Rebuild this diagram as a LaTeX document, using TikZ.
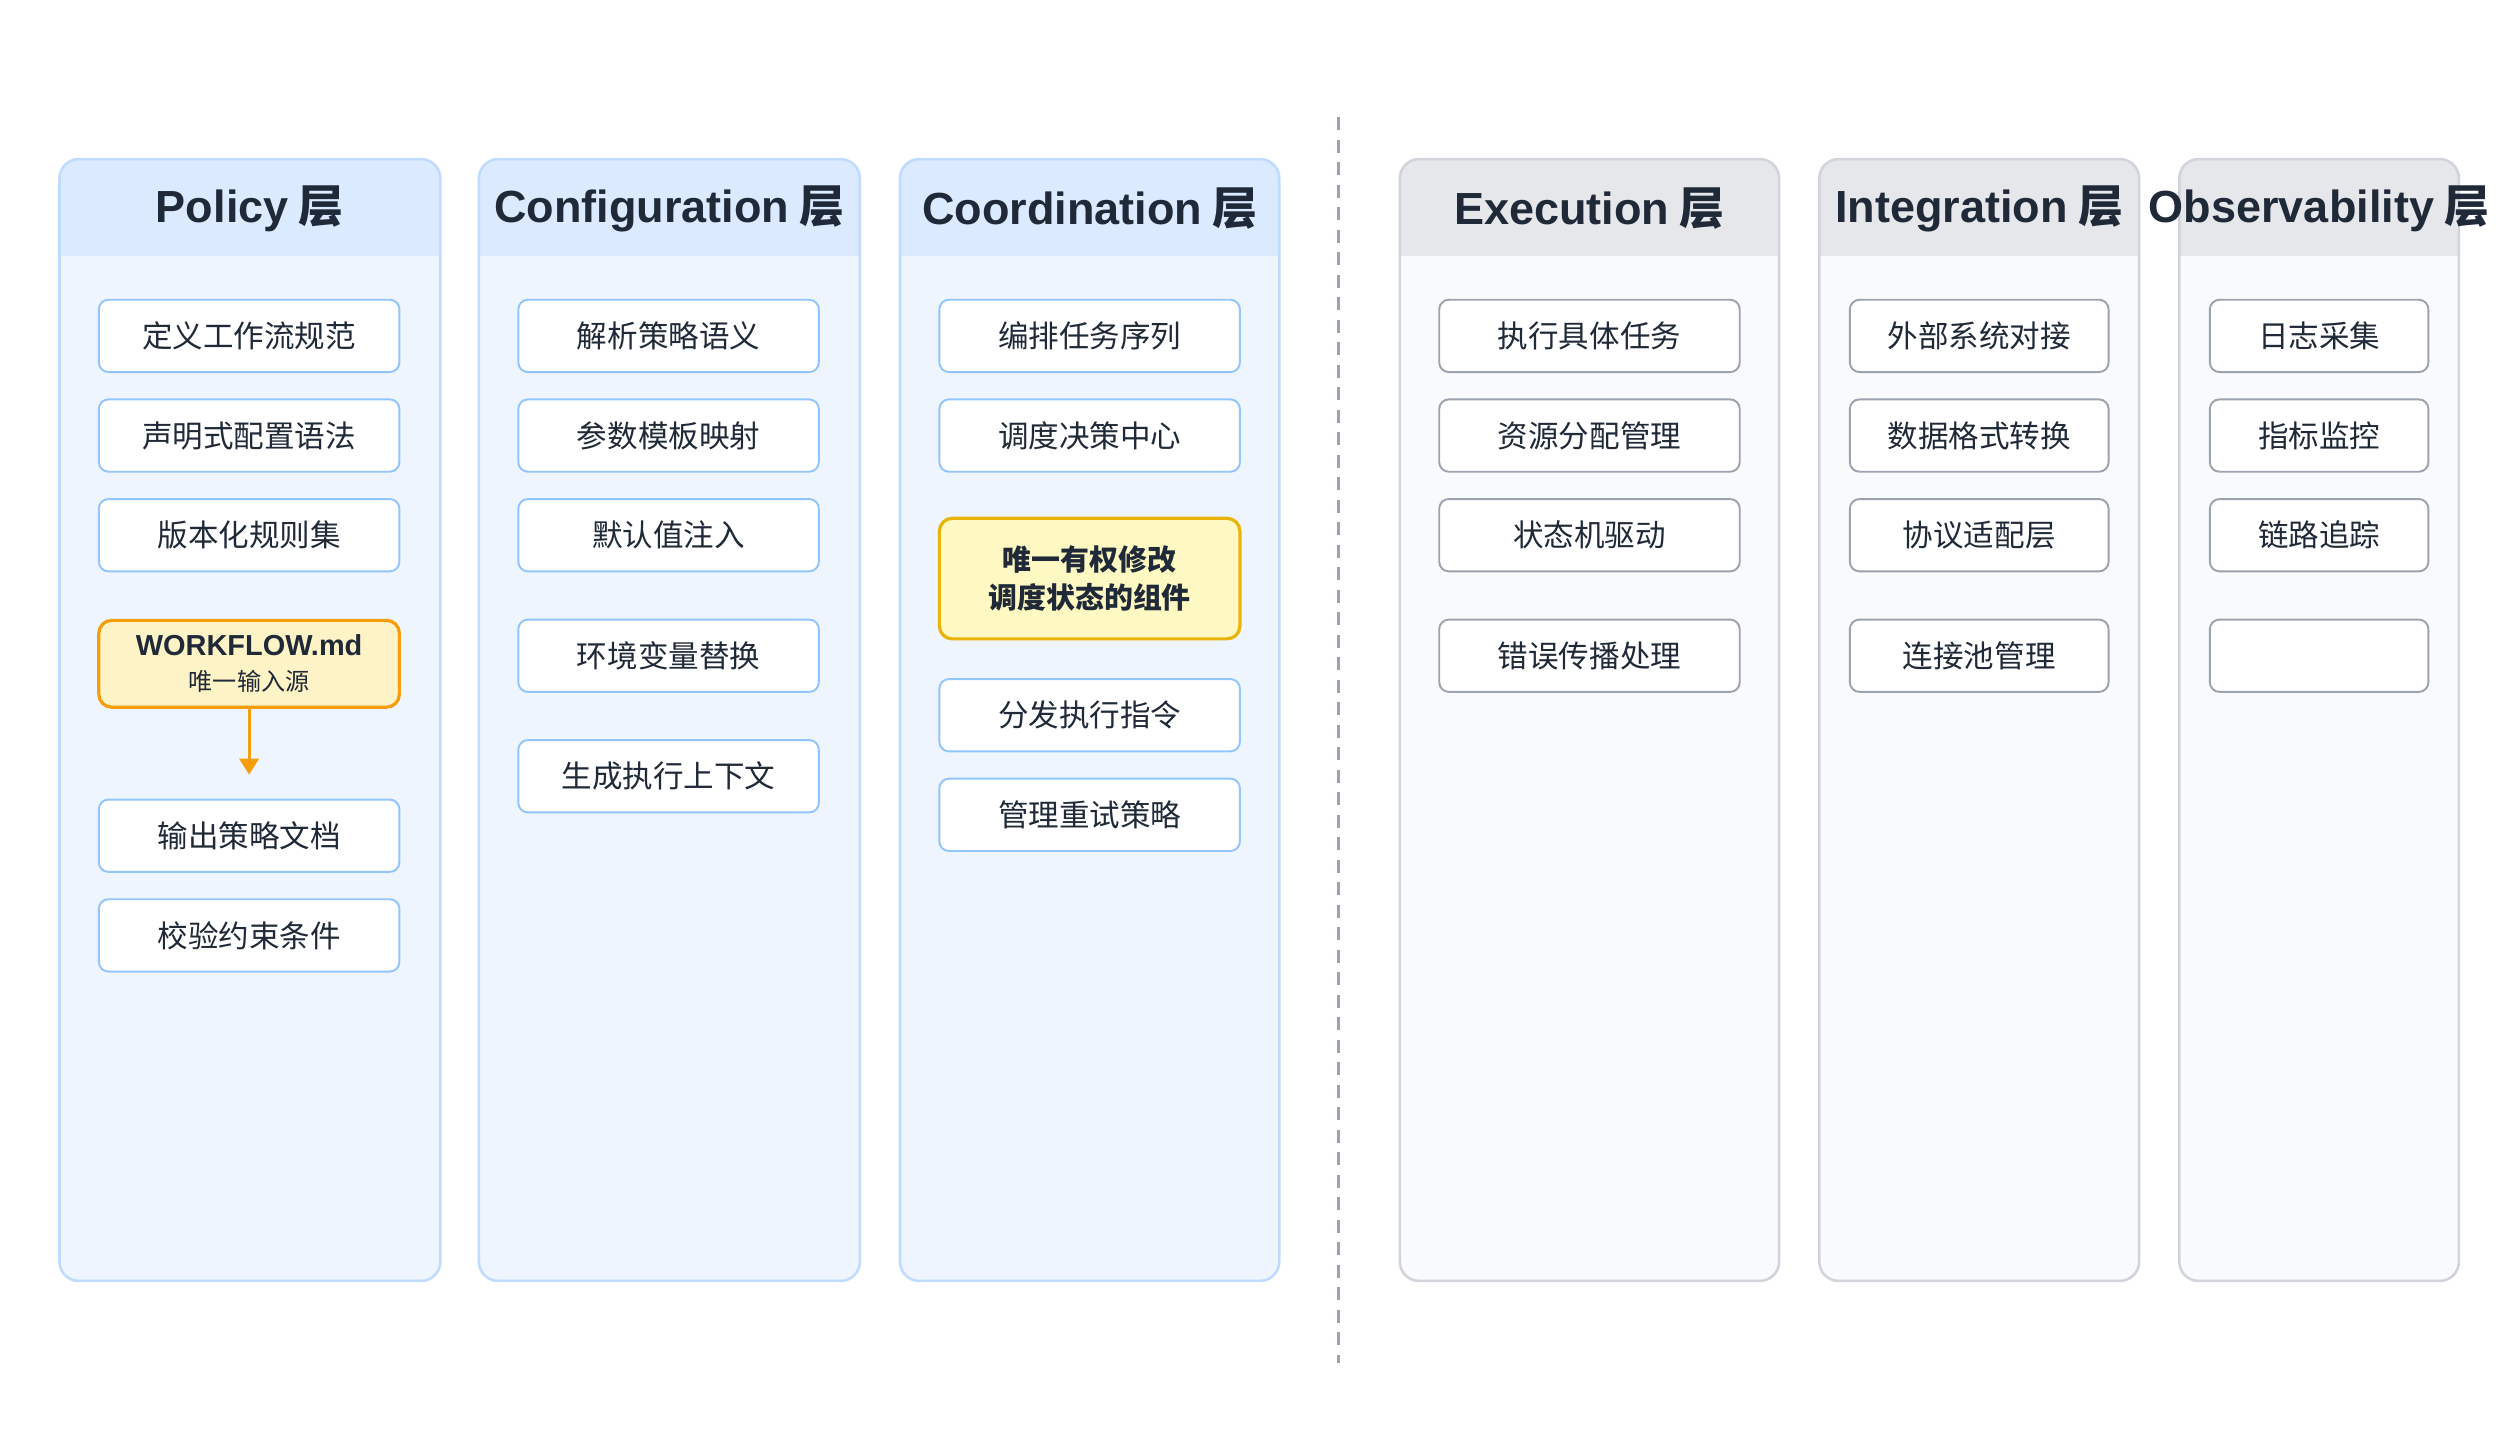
\documentclass[tikz,border=0pt]{standalone}
\usepackage{fontspec}
\setmainfont{Noto Sans CJK SC}
\newfontfamily\lat{Liberation Sans}
\usetikzlibrary{arrows.meta}
\definecolor{bfill}{HTML}{EEF5FE}\definecolor{bbord}{HTML}{BFDBFE}\definecolor{bhead}{HTML}{DBEAFE}\definecolor{bbox}{HTML}{93C5FD}
\definecolor{gfill}{HTML}{F8FAFC}\definecolor{gbord}{HTML}{D1D5DB}\definecolor{ghead}{HTML}{E5E7EB}\definecolor{gbox}{HTML}{9CA3AF}
\definecolor{txt}{HTML}{1F2937}
\definecolor{wfill}{HTML}{FEF3C7}\definecolor{wbord}{HTML}{F59E0B}
\definecolor{yfill}{HTML}{FEF9C3}\definecolor{ybord}{HTML}{EAB308}
\tikzset{
 item/.style={draw=#1,fill=white,rounded corners=3pt,line width=0.6pt,minimum height=22.5pt,inner sep=0pt,font=\fontsize{9.5}{11}\selectfont,text=txt},
 head/.style={font=\fontsize{14}{16}\selectfont\bfseries,text=txt},
}
\newcommand{\col}[6]{% name,x1,x2,fill,border,head
 \begin{scope}\clip[rounded corners=6pt] (#2,99) rectangle (#3,797);
 \fill[#4] (#2,99) rectangle (#3,797);
 \fill[#6] (#2,99) rectangle (#3,159);\end{scope}
 \draw[#5,line width=0.8pt,rounded corners=6pt] (#2,99) rectangle (#3,797);
 \node[head] (#1) at ({(#2+#3)/2},130) {{\lat #1} 层};}
\begin{document}
\begin{tikzpicture}[x=0.5pt,y=-0.5pt]
\useasboundingbox (0,0) rectangle (1568,896);
\col{Policy}{37}{274}{bfill}{bbord}{bhead}
\col{Configuration}{298}{535}{bfill}{bbord}{bhead}
\col{Coordination}{560}{796}{bfill}{bbord}{bhead}
\col{Execution}{871}{1107}{gfill}{gbord}{ghead}
\col{Integration}{1132}{1331}{gfill}{gbord}{ghead}
\col{Observability}{1356}{1530}{gfill}{gbord}{ghead}
\draw[gbox,line width=1pt,dash pattern=on 4pt off 3pt] (833,73) -- (833,848);
\begin{scope}[every node/.style={item=bbox,minimum width=93.5pt}]
\node (p1) at (155,209) {定义工作流规范};
\node (p2) at (155,271) {声明式配置语法};
\node (p3) at (155,333) {版本化规则集};
\node (p5) at (155,520) {输出策略文档};
\node (p6) at (155,582) {校验约束条件};
\node (c1) at (416,209) {解析策略语义};
\node (c2) at (416,271) {参数模板映射};
\node (c3) at (416,333) {默认值注入};
\node (c4) at (416,408) {环境变量替换};
\node (c5) at (416,483) {生成执行上下文};
\node (o1) at (678,209) {编排任务序列};
\node (o2) at (678,271) {调度决策中心};
\node (o4) at (678,445) {分发执行指令};
\node (o5) at (678,507) {管理重试策略};
\end{scope}
\node[draw=wbord,fill=wfill,line width=1pt,rounded corners=4pt,minimum width=93.5pt,minimum height=27pt,inner sep=0pt,align=center,text=txt] (p4) at (155,413)
 {{\lat\fontsize{9}{10}\selectfont\bfseries WORKFLOW.md}\\[-1pt]{\fontsize{7.5}{9}\selectfont 唯一输入源}};
\draw[wbord,line width=1pt,-{Triangle[length=5pt,width=6pt]}] (p4.south) -- (155,482);
\node[draw=ybord,fill=yfill,line width=1pt,rounded corners=4pt,minimum width=93.5pt,minimum height=37.5pt,inner sep=0pt,align=center,font=\fontsize{9}{12}\selectfont\bfseries,text=txt] (o3) at (678,360) {唯一有权修改\\调度状态的组件};
\begin{scope}[every node/.style={item=gbox,minimum width=93.5pt}]
\node (e1) at (989,209) {执行具体任务};
\node (e2) at (989,271) {资源分配管理};
\node (e3) at (989,333) {状态机驱动};
\node (e4) at (989,408) {错误传播处理};
\end{scope}
\begin{scope}[every node/.style={item=gbox,minimum width=80.5pt}]
\node (i1) at (1231.5,209) {外部系统对接};
\node (i2) at (1231.5,271) {数据格式转换};
\node (i3) at (1231.5,333) {协议适配层};
\node (i4) at (1231.5,408) {连接池管理};
\end{scope}
\begin{scope}[every node/.style={item=gbox,minimum width=68pt}]
\node (b1) at (1443,209) {日志采集};
\node (b2) at (1443,271) {指标监控};
\node (b3) at (1443,333) {链路追踪};
\node (b4) at (1443,408) {};
\end{scope}
\end{tikzpicture}
\end{document}
